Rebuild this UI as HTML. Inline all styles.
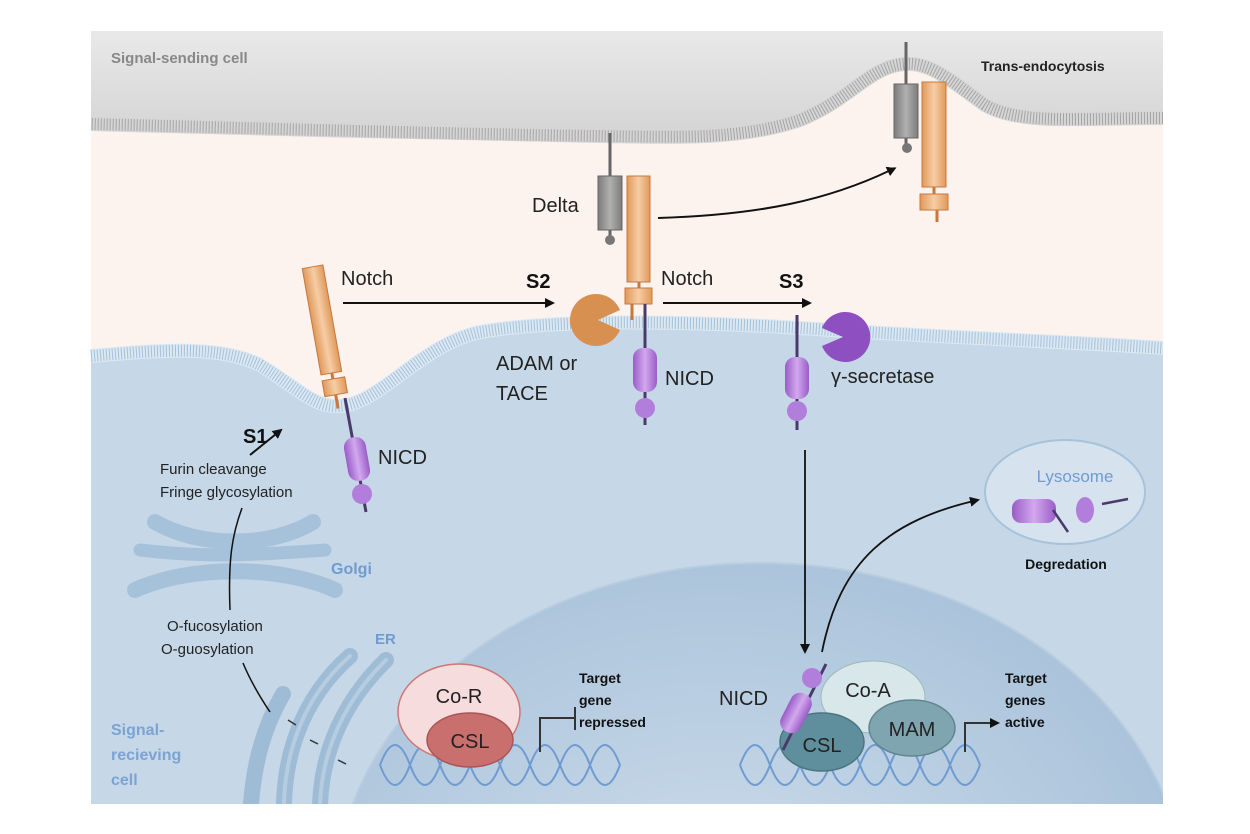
<!DOCTYPE html>
<html><head><meta charset="utf-8"><style>
html,body{margin:0;padding:0;background:#fff;width:1250px;height:834px;overflow:hidden}
svg{display:block}
text{font-family:"Liberation Sans",sans-serif}
</style></head><body>
<svg width="1250" height="834" viewBox="0 0 1250 834" xmlns="http://www.w3.org/2000/svg">
<defs>
<linearGradient id="gtop" x1="0" y1="0" x2="0" y2="1"><stop offset="0" stop-color="#e9e9e9"/><stop offset="1" stop-color="#d4d4d4"/></linearGradient>
<radialGradient id="gnuc" cx="0.45" cy="0.55" r="0.6"><stop offset="0" stop-color="#cfdeec"/><stop offset="1" stop-color="#a9c2da"/></radialGradient>
<linearGradient id="gor" x1="0" y1="0" x2="1" y2="0"><stop offset="0" stop-color="#e0995a"/><stop offset="0.5" stop-color="#f6cda6"/><stop offset="1" stop-color="#e0995a"/></linearGradient>
<linearGradient id="gpu" x1="0" y1="0" x2="1" y2="0"><stop offset="0" stop-color="#9a5cc8"/><stop offset="0.5" stop-color="#d2a8ee"/><stop offset="1" stop-color="#9a5cc8"/></linearGradient>
<linearGradient id="ggr" x1="0" y1="0" x2="1" y2="0"><stop offset="0" stop-color="#7c7c7c"/><stop offset="0.5" stop-color="#b0b0b0"/><stop offset="1" stop-color="#7c7c7c"/></linearGradient>
<marker id="ah" markerWidth="10" markerHeight="10" refX="8" refY="5" orient="auto" markerUnits="userSpaceOnUse"><path d="M0,0 L10,5 L0,10 z" fill="#111"/></marker>
</defs>
<rect x="91" y="31" width="1072" height="773" fill="#fcf3ee"/>
<path d="M91,31 H1163 V118 C1080,118 1020,125 985,105 C950,80 930,62 905,64 C870,66 850,100 800,120 C740,140 680,137 600,136 C450,134 250,128 91,124 Z" fill="url(#gtop)"/>
<path d="M1163,118 C1080,118 1020,125 985,105 C950,80 930,62 905,64 C870,66 850,100 800,120 C740,140 680,137 600,136 C450,134 250,128 91,124" fill="none" stroke="#d6d6d6" stroke-width="14"/>
<path d="M1163,118 C1080,118 1020,125 985,105 C950,80 930,62 905,64 C870,66 850,100 800,120 C740,140 680,137 600,136 C450,134 250,128 91,124" fill="none" stroke="#a4a4a4" stroke-width="12" stroke-dasharray="1 2"/>
<path d="M91,356 C160,350 220,345 260,365 C300,390 315,408 340,406 C380,404 420,345 480,332 C560,318 700,322 800,328 C950,338 1080,342 1163,348 V804 H91 Z" fill="#c6d7e7"/>
<path d="M91,356 C160,350 220,345 260,365 C300,390 315,408 340,406 C380,404 420,345 480,332 C560,318 700,322 800,328 C950,338 1080,342 1163,348" fill="none" stroke="#dce8f2" stroke-width="14"/>
<path d="M91,356 C160,350 220,345 260,365 C300,390 315,408 340,406 C380,404 420,345 480,332 C560,318 700,322 800,328 C950,338 1080,342 1163,348" fill="none" stroke="#a3c1da" stroke-width="12" stroke-dasharray="1 2"/>
<clipPath id="cp"><rect x="91" y="31" width="1072" height="773"/></clipPath>
<g clip-path="url(#cp)">
<ellipse cx="760" cy="901" rx="425" ry="338" fill="url(#gnuc)" stroke="#b9cde0" stroke-width="2"/>
<g fill="none" stroke-linecap="round">
<path d="M283,694 C262,730 252,770 250,820" stroke="#9fbcd6" stroke-width="16"/>
<path d="M350,656 C300,700 282,760 284,820" stroke="#9fbcd6" stroke-width="16"/>
<path d="M386,660 C340,705 318,760 320,820" stroke="#9fbcd6" stroke-width="16"/>
<path d="M350,656 C300,700 282,760 284,820" stroke="#b5cce1" stroke-width="4"/>
<path d="M386,660 C340,705 318,760 320,820" stroke="#b5cce1" stroke-width="4"/>
</g>
</g>
<!-- Golgi -->
<g fill="none" stroke="#a6c2da" stroke-linecap="round">
<path d="M155,522 C200,548 270,548 313,522" stroke-width="16"/>
<path d="M140,550 C190,556 230,557 325,550" stroke-width="13"/>
<path d="M135,590 C190,565 280,565 335,590" stroke-width="16"/>
</g>
<g fill="none" stroke="#6f9bd0" stroke-width="2">
<path d="M380,765 q15,-40 30,0 t30,0 t30,0 t30,0 t30,0 t30,0 t30,0 t30,0"/>
<path d="M380,765 q15,40 30,0 t30,0 t30,0 t30,0 t30,0 t30,0 t30,0 t30,0"/>
<path d="M740,765 q15,-40 30,0 t30,0 t30,0 t30,0 t30,0 t30,0 t30,0 t30,0"/>
<path d="M740,765 q15,40 30,0 t30,0 t30,0 t30,0 t30,0 t30,0 t30,0 t30,0"/>
</g>
<ellipse cx="459" cy="712" rx="61" ry="48" fill="#f6dcdc" stroke="#c77" stroke-width="1.5"/>
<ellipse cx="470" cy="740" rx="43" ry="27" fill="#c9706f" stroke="#a55" stroke-width="1.5"/>
<text x="459" y="703" font-size="20" text-anchor="middle" fill="#222">Co-R</text>
<text x="470" y="748" font-size="20" text-anchor="middle" fill="#222">CSL</text>
<path d="M540,752 V718 H575 M575,707 V730" stroke="#333" stroke-width="2" fill="none"/>
<text font-size="14" font-weight="bold" fill="#111"><tspan x="579" y="683">Target</tspan><tspan x="579" y="705">gene</tspan><tspan x="579" y="727">repressed</tspan></text>
<ellipse cx="873" cy="697" rx="52" ry="36" fill="#d8e7e9" stroke="#9bb" stroke-width="1"/>
<ellipse cx="912" cy="728" rx="43" ry="28" fill="#7fa6b0" stroke="#5f8690" stroke-width="1.5"/>
<ellipse cx="822" cy="742" rx="42" ry="29" fill="#5f8f9c" stroke="#4a7480" stroke-width="1.5"/>
<text x="868" y="697" font-size="20" text-anchor="middle" fill="#222">Co-A</text>
<text x="912" y="736" font-size="20" text-anchor="middle" fill="#222">MAM</text>
<text x="822" y="752" font-size="20" text-anchor="middle" fill="#222">CSL</text>
<line x1="783" y1="750" x2="826" y2="664" stroke="#4a3a6a" stroke-width="3"/>
<rect x="785" y="692" width="22" height="42" rx="10" fill="url(#gpu)" transform="rotate(27 796 713)"/>
<circle cx="812" cy="678" r="10" fill="#b27edc"/>
<text x="719" y="705" font-size="20" fill="#222">NICD</text>
<path d="M965,752 V723 H998" stroke="#333" stroke-width="2" fill="none" marker-end="url(#ah)"/>
<text font-size="14" font-weight="bold" fill="#111"><tspan x="1005" y="683">Target</tspan><tspan x="1005" y="705">genes</tspan><tspan x="1005" y="727">active</tspan></text>
<ellipse cx="1065" cy="492" rx="80" ry="52" fill="#d6e3ef" stroke="#a6c3dc" stroke-width="2"/>
<text x="1075" y="482" font-size="17" fill="#6f9bd0" text-anchor="middle">Lysosome</text>
<rect x="1012" y="499" width="44" height="24" rx="9" fill="url(#gpu)"/>
<ellipse cx="1085" cy="510" rx="9" ry="13" fill="#b27edc"/>
<line x1="1053" y1="510" x2="1068" y2="532" stroke="#4a3a6a" stroke-width="2.5"/>
<line x1="1102" y1="504" x2="1128" y2="499" stroke="#4a3a6a" stroke-width="2.5"/>
<text x="1066" y="569" font-size="14" font-weight="bold" fill="#111" text-anchor="middle">Degredation</text>
<line x1="343" y1="303" x2="553" y2="303" stroke="#111" stroke-width="2" marker-end="url(#ah)"/>
<line x1="663" y1="303" x2="810" y2="303" stroke="#111" stroke-width="2" marker-end="url(#ah)"/>
<path d="M658,218 C760,215 830,200 895,168" fill="none" stroke="#111" stroke-width="2" marker-end="url(#ah)"/>
<line x1="805" y1="450" x2="805" y2="652" stroke="#111" stroke-width="1.8" marker-end="url(#ah)"/>
<path d="M822,652 C840,560 890,520 978,500" fill="none" stroke="#111" stroke-width="1.8" marker-end="url(#ah)"/>
<line x1="250" y1="455" x2="281" y2="430" stroke="#111" stroke-width="2" marker-end="url(#ah)"/>
<path d="M242,508 C232,535 228,560 230,610" fill="none" stroke="#111" stroke-width="1.5"/>
<path d="M243,663 C250,680 262,700 270,712" fill="none" stroke="#111" stroke-width="1.5"/>
<g stroke="#333" stroke-width="1.5"><line x1="288" y1="720" x2="296" y2="725"/><line x1="310" y1="740" x2="318" y2="744"/><line x1="338" y1="760" x2="346" y2="764"/></g>
<g transform="rotate(-10 322 323)">
<rect x="312" y="266" width="21" height="108" fill="url(#gor)" stroke="#c8783c" stroke-width="1"/>
<rect x="312" y="380" width="23" height="16" fill="url(#gor)" stroke="#c8783c" stroke-width="1"/>
<line x1="323" y1="374" x2="323" y2="380" stroke="#c8783c" stroke-width="3"/>
<line x1="323" y1="396" x2="323" y2="410" stroke="#c8783c" stroke-width="3"/>
</g>
<line x1="345" y1="398" x2="366" y2="512" stroke="#4a3a6a" stroke-width="3"/>
<rect x="346" y="437" width="22" height="44" rx="10" fill="url(#gpu)" transform="rotate(-10 357 459)"/>
<circle cx="362" cy="494" r="10" fill="#b27edc"/>
<text x="378" y="464" font-size="20" fill="#222">NICD</text>
<line x1="610" y1="133" x2="610" y2="236" stroke="#666" stroke-width="3"/>
<rect x="598" y="176" width="24" height="54" fill="url(#ggr)" stroke="#666"/>
<circle cx="610" cy="240" r="5" fill="#777"/>
<text x="532" y="212" font-size="20" fill="#222">Delta</text>
<rect x="627" y="176" width="23" height="106" fill="url(#gor)" stroke="#c8783c"/>
<line x1="639" y1="282" x2="639" y2="288" stroke="#c8783c" stroke-width="3"/>
<rect x="625" y="288" width="27" height="16" fill="url(#gor)" stroke="#c8783c"/>
<line x1="632" y1="304" x2="632" y2="320" stroke="#c8783c" stroke-width="3"/>
<line x1="645" y1="304" x2="645" y2="425" stroke="#4a3a6a" stroke-width="3"/>
<rect x="633" y="348" width="24" height="44" rx="10" fill="url(#gpu)"/>
<circle cx="645" cy="408" r="10" fill="#b27edc"/>
<text x="665" y="385" font-size="20" fill="#222">NICD</text>
<path d="M620,310 A26,26 0 1 0 620,330 L598,320 Z" fill="#d89050"/>
<text x="496" y="370" font-size="20" fill="#222">ADAM or</text>
<text x="496" y="400" font-size="20" fill="#222">TACE</text>
<text x="526" y="288" font-size="20" font-weight="bold" fill="#111">S2</text>
<text x="341" y="285" font-size="20" fill="#222">Notch</text>
<text x="661" y="285" font-size="20" fill="#222">Notch</text>
<text x="779" y="288" font-size="20" font-weight="bold" fill="#111">S3</text>
<line x1="797" y1="315" x2="797" y2="430" stroke="#4a3a6a" stroke-width="3"/>
<rect x="785" y="357" width="24" height="42" rx="10" fill="url(#gpu)"/>
<circle cx="797" cy="411" r="10" fill="#b27edc"/>
<path d="M822,328 A25,25 0 1 1 822,346 L843,337 Z" fill="#8e4fc0"/>
<text x="831" y="383" font-size="20" fill="#222">γ-secretase</text>
<line x1="906" y1="42" x2="906" y2="145" stroke="#666" stroke-width="3"/>
<rect x="894" y="84" width="24" height="54" fill="url(#ggr)" stroke="#666"/>
<circle cx="907" cy="148" r="5" fill="#777"/>
<rect x="922" y="82" width="24" height="105" fill="url(#gor)" stroke="#c8783c"/>
<line x1="934" y1="187" x2="934" y2="194" stroke="#c8783c" stroke-width="3"/>
<rect x="920" y="194" width="28" height="16" fill="url(#gor)" stroke="#c8783c"/>
<line x1="937" y1="210" x2="937" y2="222" stroke="#c8783c" stroke-width="3"/>
<text x="981" y="71" font-size="14" font-weight="bold" fill="#222">Trans-endocytosis</text>
<text x="111" y="63" font-size="15" font-weight="bold" fill="#888">Signal-sending cell</text>
<text x="243" y="443" font-size="20" font-weight="bold" fill="#111">S1</text>
<text x="160" y="474" font-size="15" fill="#222">Furin cleavange</text>
<text x="160" y="497" font-size="15" fill="#222">Fringe glycosylation</text>
<text x="331" y="574" font-size="16" font-weight="bold" fill="#6f9bd0">Golgi</text>
<text x="167" y="631" font-size="15" fill="#222">O-fucosylation</text>
<text x="161" y="654" font-size="15" fill="#222">O-guosylation</text>
<text x="375" y="644" font-size="15" font-weight="bold" fill="#6f9bd0">ER</text>
<text font-size="16" font-weight="bold" fill="#7ba3d3"><tspan x="111" y="735">Signal-</tspan><tspan x="111" y="760">recieving</tspan><tspan x="111" y="785">cell</tspan></text>
</svg>
</body></html>
